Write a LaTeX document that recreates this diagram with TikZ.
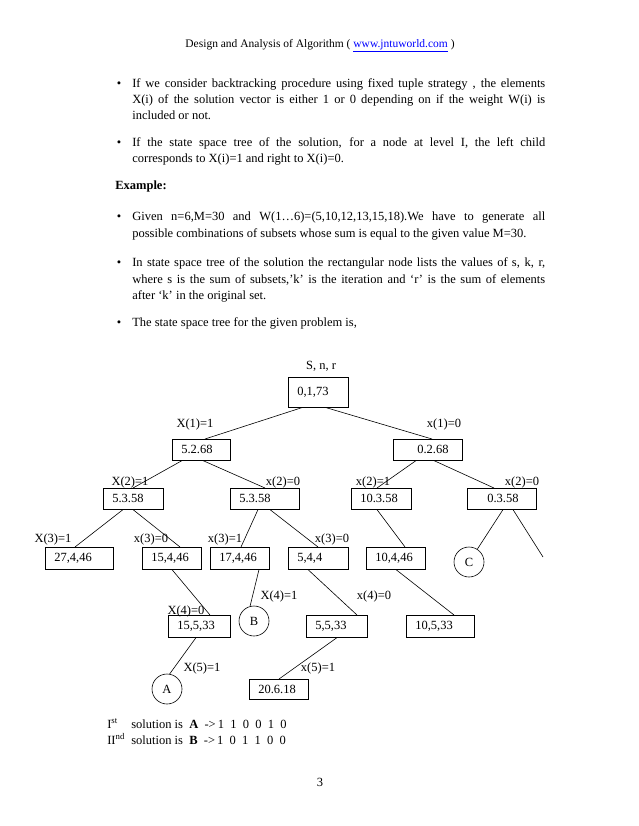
\documentclass[tikz,border=0pt]{standalone}
\usepackage{fontspec}
\setmainfont{Liberation Serif}

\tikzset{
  sbox/.style={draw, rectangle, inner xsep=9pt, inner ysep=0pt, align=left, anchor=north west},
  leaf/.style={draw, circle, minimum size=30pt, inner sep=0pt},
  lbl/.style={inner sep=0pt},
  para/.style={anchor=west, inner sep=0pt, text height=9pt, text depth=3pt},
}
% box from (x1,y1) to (x2,y2), text set 9pt in from the left side
\newcommand\stnode[6]{%
  \pgfmathsetmacro\stw{#4-#2-18}%
  \pgfmathsetmacro\sth{#5-#3}%
  \node[sbox, text width=\stw pt, minimum height=\sth pt] (#1) at (#2,#3) {#6};}
% one justified line of body text
\newcommand\jline[3]{\node[para] (#1) at (132,#2) {\makebox[413pt][s]{#3}};}

\begin{document}
\begin{tikzpicture}[x=1pt, y=-1pt, line width=0.6pt, font=\fontsize{12.5}{15}\selectfont]
		\fill[white] (0,0) rectangle (638,826);
		\useasboundingbox (0,0) rectangle (638,826);
		% page text
		\node (hdr) at (320,46) {\fontsize{11.5}{13}\selectfont Design and Analysis of Algorithm ( \textcolor{blue}{\underline{www.jntuworld.com}} )};
		\node[para, anchor=center] (b1) at (119,85) {\textbullet};
		\jline{t1}{85}{If we consider backtracking procedure using fixed tuple strategy , the elements}
		\jline{t2}{101}{X(i) of the solution vector is either 1 or 0 depending on if the weight W(i) is}
		\node[para] (t3) at (132,117) {included or not.};
		\node[para, anchor=center] (b2) at (119,144) {\textbullet};
		\jline{t4}{144}{If the state space tree of the solution, for a node at level I, the left child}
		\node[para] (t5) at (132,160) {corresponds to X(i)=1 and right to X(i)=0.};
		\node[para] (ex) at (115,187) {\textbf{Example:}};
		\node[para, anchor=center] (b3) at (119,217) {\textbullet};
		\jline{t6}{217}{Given n=6,M=30 and W(1…6)=(5,10,12,13,15,18).We have to generate all}
		\node[para] (t7) at (132,234) {possible combinations of subsets whose sum is equal to the given value M=30.};
		\node[para, anchor=center] (b4) at (119,263) {\textbullet};
		\jline{t8}{263}{In state space tree of the solution the rectangular node lists the values of s, k, r,}
		\jline{t9}{280}{where s is the sum of subsets,'k' is the iteration and `r' is the sum of elements}
		\node[para] (t10) at (132,296) {after `k' in the original set.};
		\node[para, anchor=center] (b5) at (119,323) {\textbullet};
		\node[para] (t11) at (132,323) {The state space tree for the given problem is,};
		% state space tree
		\node[lbl] (snr) at (321,366) {S, n, r};
		\stnode{root}{288}{377}{348}{407}{0,1,73}
		\stnode{n1}{172}{439}{230}{460}{5.2.68}
		\stnode{n2}{393}{439}{462}{460}{\hspace*{15pt}0.2.68}
		\stnode{n11}{103}{488}{163}{509}{5.3.58}
		\stnode{n12}{230}{488}{299}{509}{5.3.58}
		\stnode{n21}{351}{488}{411}{509}{10.3.58}
		\stnode{n22}{467}{488}{536}{509}{\hspace*{11pt}0.3.58}
		\stnode{n111}{45}{547}{113}{569}{27,4,46}
		\stnode{n112}{142}{547}{201}{569}{15,4,46}
		\stnode{n121}{210}{547}{269}{569}{17,4,46}
		\stnode{n122}{288}{547}{348}{569}{5,4,4}
		\stnode{n211}{366}{547}{425}{569}{10,4,46}
		\stnode{n1121}{168}{615}{230}{637}{15,5,33}
		\stnode{n1221}{306}{615}{367}{637}{5,5,33}
		\stnode{n2111}{406}{615}{474}{637}{10,5,33}
		\stnode{n12211}{249}{679}{308}{699}{20.6.18}
		\node[leaf] (c) at (469,562) {C};
		\node[leaf] (b) at (254,621) {B};
		\node[leaf] (a) at (167,689) {A};
		\coordinate (cend) at (543,557);
		% edges
		\draw ([xshift=14]root.south west) -- ([xshift=33]n1.north west);
		\draw ([xshift=38]root.south west) -- ([xshift=39]n2.north west);
		\draw ([xshift=10]n1.south west) -- ([xshift=30]n11.north west);
		\draw ([xshift=31]n1.south west) -- ([xshift=35]n12.north west);
		\draw ([xshift=23]n2.south west) -- ([xshift=26]n21.north west);
		\draw ([xshift=41]n2.south west) -- ([xshift=27]n22.north west);
		\draw ([xshift=20]n11.south west) -- ([xshift=30]n111.north west);
		\draw ([xshift=30]n11.south west) -- ([xshift=38]n112.north west);
		\draw ([xshift=28]n12.south west) -- ([xshift=31]n121.north west);
		\draw ([xshift=40]n12.south west) -- ([xshift=30]n122.north west);
		\draw ([xshift=26]n21.south west) -- ([xshift=39]n211.north west);
		\draw ([xshift=36]n22.south west) -- (c);
		\draw ([xshift=46]n22.south west) -- (cend);
		\draw ([xshift=30]n112.south west) -- ([xshift=42]n1121.north west);
		\draw ([xshift=49]n121.south west) -- (b.105);
		\draw ([xshift=20]n122.south west) -- ([xshift=51]n1221.north west);
		\draw ([xshift=30]n211.south west) -- ([xshift=48]n2111.north west);
		\draw ([xshift=28]n1121.south west) -- (a.80);
		\draw ([xshift=31]n1221.south west) -- ([xshift=30]n12211.north west);
		% edge labels
		\node[lbl] (l1a) at (195,424) {X(1)=1};
		\node[lbl] (l1b) at (444,424) {x(1)=0};
		\node[lbl] (l2a) at (130,482) {X(2)=1};
		\node[lbl] (l2b) at (283,482) {x(2)=0};
		\node[lbl] (l2c) at (373,482) {x(2)=1};
		\node[lbl] (l2d) at (522,482) {x(2)=0};
		\node[lbl] (l3a) at (53,539) {X(3)=1};
		\node[lbl] (l3b) at (151,539) {x(3)=0};
		\node[lbl] (l3c) at (225,539) {x(3)=1};
		\node[lbl] (l3d) at (332,539) {x(3)=0};
		\node[lbl] (l4a) at (186,611) {X(4)=0};
		\node[lbl] (l4b) at (279,596) {X(4)=1};
		\node[lbl] (l4c) at (374,596) {x(4)=0};
		\node[lbl] (l5a) at (202,668) {X(5)=1};
		\node[lbl] (l5b) at (318,668) {x(5)=1};
		% solutions
		\node[para] (s1a) at (107,725) {I\textsuperscript{st}};
		\node[para] (s1b) at (131,725) {solution is\ \ \textbf{A}\ \ ->\,1\ \ 1\ \ 0\ \ 0\ \ 1\ \ 0};
		\node[para] (s2a) at (107,741) {II\textsuperscript{nd}};
		\node[para] (s2b) at (131,741) {solution is\ \ \textbf{B}\ \ ->\,1\ \ 0\ \ 1\ \ 1\ \ 0\ \ 0};
		\node (pg) at (320,782) {3};
		\end{tikzpicture}
\end{document}
